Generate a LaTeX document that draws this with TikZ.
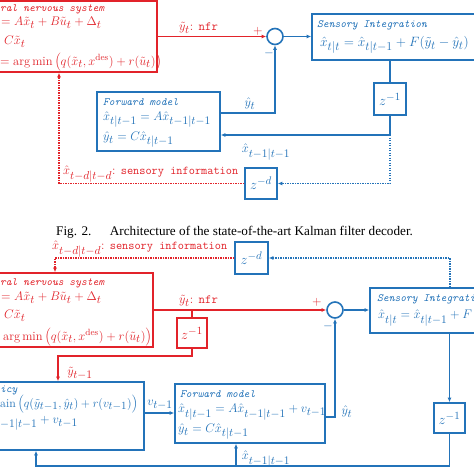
\RequirePackage{fix-cm}
\documentclass[tikz,border=0pt]{standalone}
\usepackage{fontspec}
\newfontfamily\capfont{Liberation Serif}
\usetikzlibrary{arrows.meta,calc}
\definecolor{kred}{RGB}{226,35,42}
\definecolor{kblue}{RGB}{35,115,185}
\DeclareMathSizes{12}{12}{11}{8.5}
\DeclareMathSizes{12.5}{12.5}{11.5}{9}
\DeclareMathSizes{13.5}{13.5}{12}{9.5}
\DeclareMathSizes{14}{14}{11}{9}
\begin{document}
\begin{tikzpicture}[x=1pt,y=-1pt,
  boxs/.style={draw, line width=1.6pt, inner sep=0pt},
  rbox/.style={boxs, draw=kred},
  bbox/.style={boxs, draw=kblue},
  rl/.style={line width=1.6pt, draw=kred},
  bl/.style={line width=1.6pt, draw=kblue},
  arr/.style={-{Latex[length=4.5pt,width=4pt]}},
  dotl/.style={dash pattern=on 1.3pt off 1.2pt},
  tl/.style={inner sep=0pt, anchor=west},
  ttl/.style={tl, font=\fontsize{11}{13}\selectfont\ttfamily\itshape},
  mt/.style={tl, font=\fontsize{12.5}{15}\selectfont},
  mts/.style={tl, font=\fontsize{12}{14}\selectfont},
  mtb/.style={tl, font=\fontsize{13.5}{16}\selectfont},
  lab/.style={inner sep=0pt, font=\fontsize{12.5}{15}\selectfont},
  zl/.style={inner sep=0pt, font=\fontsize{14}{16}\selectfont},
  sumc/.style={circle, draw=kblue, line width=1.6pt, minimum size=16pt, inner sep=0pt},
]
\useasboundingbox (0,0) rectangle (474,474);
\fill[white] (0,0) rectangle (474,474);
\clip (0,0) rectangle (474,474);

% ================= top diagram =================
\node[rbox, minimum width=217pt, minimum height=71pt] (cns1) at (48.5,36.5) {};
\node[bbox, minimum width=166pt, minimum height=46pt] (sens1) at (395,37) {};
\node[bbox, minimum width=123pt, minimum height=59pt] (fwd1) at (158.5,121.5) {};
\node[bbox, minimum width=32pt, minimum height=32pt] (zm1) at (390,99) {};
\node[bbox, minimum width=32pt, minimum height=31pt] (zd1) at (261,183.5) {};
\node[sumc] (sum1) at (275,36.5) {};

\node[ttl, text=kred] (t1a) at (0,9) {ral nervous system};
\node[mt, text=kred] (t1b) at (1,22.5) {$= A\tilde x_t + B\tilde u_t + \Delta_t$};
\node[mt, text=kred] (t1c) at (4,41.5) {$C\tilde x_t$};
\node[mt, text=kred] (t1d) at (0,62) {$= \arg\min\left(q(\tilde x_t, x^{\scriptscriptstyle\mathrm{des}}) + r(\tilde u_t)\right)$};

\node[ttl, text=kblue] (s1a) at (317,25) {Sensory Integration};
\node[mtb, text=kblue] (s1b) at (320,45) {$\hat x_{t|t} = \hat x_{t|t-1} + F(\tilde y_t - \hat y_t)$};

\node[ttl, text=kblue] (f1a) at (103,102) {Forward model};
\node[mt, text=kblue] (f1b) at (103,119.5) {$\hat x_{t|t-1} = A\hat x_{t-1|t-1}$};
\node[mt, text=kblue] (f1c) at (103,139.5) {$\hat y_t = C\hat x_{t|t-1}$};

\node[zl, text=kblue] at (zm1) {$z^{-1}$};
\node[zl, text=kblue] at (zd1) {$z^{-d}$};

\coordinate (c1) at (390,135);
\coordinate (c2) at (275,113);
\coordinate (c3) at (390,183.5);
\coordinate (c4) at (59,183.5);

\draw[rl, arr] (cns1.east |- sum1.west) -- (sum1.west);
\draw[bl, arr] (sum1.east) -- (sum1.east -| sens1.west);
\draw[bl] (zm1.north |- sens1.south) -- (zm1.north);
\draw[bl, arr] (zm1.south) -- (c1) -- (c1 -| fwd1.east);
\draw[bl, arr] (c2 -| fwd1.east) -- (c2) -- (sum1.south);
\draw[bl, dotl, arr] (c1) -- (c3) -- (zd1.east);
\draw[rl, dotl, arr] (zd1.west) -- (c4) -- (c4 |- cns1.south);

\node[lab, text=kred, anchor=west] (l1) at (179,28) {$\tilde y_t$: \texttt{nfr}};
\node[lab, text=kred] (p1) at (258,31) {$+$};
\node[lab, text=kblue] (m1) at (269,53) {$-$};
\node[lab, text=kblue] (y1) at (250,104) {$\hat y_t$};
\node[lab, text=kblue] (x1) at (266,152) {$\hat x_{t-1|t-1}$};
\node[lab, text=kred, anchor=west] (si1) at (63,174) {$\hat x_{t-d|t-d}$: {\fontsize{12}{14}\selectfont\ttfamily sensory information}};

% ================= caption =================
\node[anchor=west, inner sep=0pt, font=\capfont\fontsize{13.2}{15}\selectfont] (cap) at (56,232)
  {Fig. 2.\hspace{1.4em}Architecture of the state-of-the-art Kalman filter decoder.};

% ================= bottom diagram =================
\node[rbox, minimum width=213pt, minimum height=74pt] (cns2) at (46.5,310) {};
\node[bbox, minimum width=33pt, minimum height=32pt] (zd2) at (251.5,258) {};
\node[sumc] (sum2) at (335,310) {};
\node[bbox, minimum width=150pt, minimum height=45pt] (sens2) at (445,310.5) {};
\node[rbox, minimum width=30pt, minimum height=30pt] (zm2r) at (192,333) {};
\node[bbox, minimum width=204pt, minimum height=68pt] (pol2) at (42,416) {};
\node[bbox, minimum width=150pt, minimum height=59pt] (fwd2) at (250,413.5) {};
\node[bbox, minimum width=31pt, minimum height=30pt] (zm2b) at (449.5,418) {};

\node[ttl, text=kred] (t2a) at (0,283) {ral nervous system};
\node[mt, text=kred] (t2b) at (1,297.5) {$= A\tilde x_t + B\tilde u_t + \Delta_t$};
\node[mt, text=kred] (t2c) at (4,316) {$C\tilde x_t$};
\node[mt, text=kred] (t2d) at (3,337) {$\arg\min\left(q(\tilde x_t, x^{\scriptscriptstyle\mathrm{des}}) + r(\tilde u_t)\right)$};

\node[ttl, text=kblue] (s2a) at (377,299) {Sensory Integrati};
\node[mt, text=kblue] (s2b) at (378,318) {$\hat x_{t|t} = \hat x_{t|t-1} + F$};

\node[ttl, text=kblue] (q2a) at (0,390) {icy};
\node[mts, text=kblue] (q2b) at (0,404) {$\mathrm{ain}\left(q(\tilde y_{t-1}, \hat y_t) + r(v_{t-1})\right)$};
\node[mt, text=kblue] (q2c) at (0,423) {${}_{-1|t-1} + v_{t-1}$};

\node[ttl, text=kblue] (f2a) at (180,394) {Forward model};
\node[mt, text=kblue] (f2b) at (178,412) {$\hat x_{t|t-1} = A\hat x_{t-1|t-1} + v_{t-1}$};
\node[mt, text=kblue] (f2c) at (178,431.5) {$\hat y_t = C\hat x_{t|t-1}$};

\node[zl, text=kblue] at (zd2) {$z^{-d}$};
\node[zl, text=kred] at (zm2r) {$z^{-1}$};
\node[zl, text=kblue] at (zm2b) {$z^{-1}$};

\coordinate (d1) at (192,310);
\coordinate (d2) at (192,356);
\coordinate (d3) at (58,356);
\coordinate (d4) at (449.5,466);
\coordinate (d5) at (36,466);
\coordinate (d6) at (236,466);
\coordinate (d7) at (335,417);
\coordinate (d8) at (450,258);
\coordinate (d9) at (55,258);
\coordinate (d10) at (144,413);

\draw[rl, arr] (cns2.east |- sum2.west) -- (sum2.west);
\draw[rl] (d1) -- (zm2r.north);
\draw[rl, arr] (zm2r.south) -- (d2) -- (d3) -- (d3 |- pol2.north);
\draw[bl, arr] (sum2.east) -- (sum2.east -| sens2.west);
\draw[bl, arr] (zm2b.north |- sens2.south) -- (zm2b.north);
\draw[bl, arr] (zm2b.south) -- (d4) -- (d5) -- (d5 |- pol2.south);
\draw[bl, arr] (d6) -- (d6 |- fwd2.south);
\draw[bl, arr] (d7 -| fwd2.east) -- (d7) -- (sum2.south);
\draw[bl, dotl, arr] (d8 |- sens2.north) -- (d8) -- (zd2.east);
\draw[rl, dotl, arr] (zd2.west) -- (d9) -- (d9 |- cns2.north);
\draw[bl, arr] (d10 -| pol2.east) -- (d10 -| fwd2.west);

\node[lab, text=kred, anchor=west] (si2) at (52,249) {$\hat x_{t-d|t-d}$: {\fontsize{12}{14}\selectfont\ttfamily sensory information}};
\node[lab, text=kred, anchor=west] (l2) at (179,301) {$\tilde y_t$: \texttt{nfr}};
\node[lab, text=kred] (p2) at (317,302) {$+$};
\node[lab, text=kblue] (m2) at (328,326) {$-$};
\node[lab, text=kred] (yy2) at (80,373) {$\tilde y_{t-1}$};
\node[lab, text=kblue] (v2) at (160,405) {$v_{t-1}$};
\node[lab, text=kblue] (y2) at (347,412) {$\hat y_t$};
\node[lab, text=kblue] (x2) at (266,459) {$\hat x_{t-1|t-1}$};
\end{tikzpicture}
\end{document}
